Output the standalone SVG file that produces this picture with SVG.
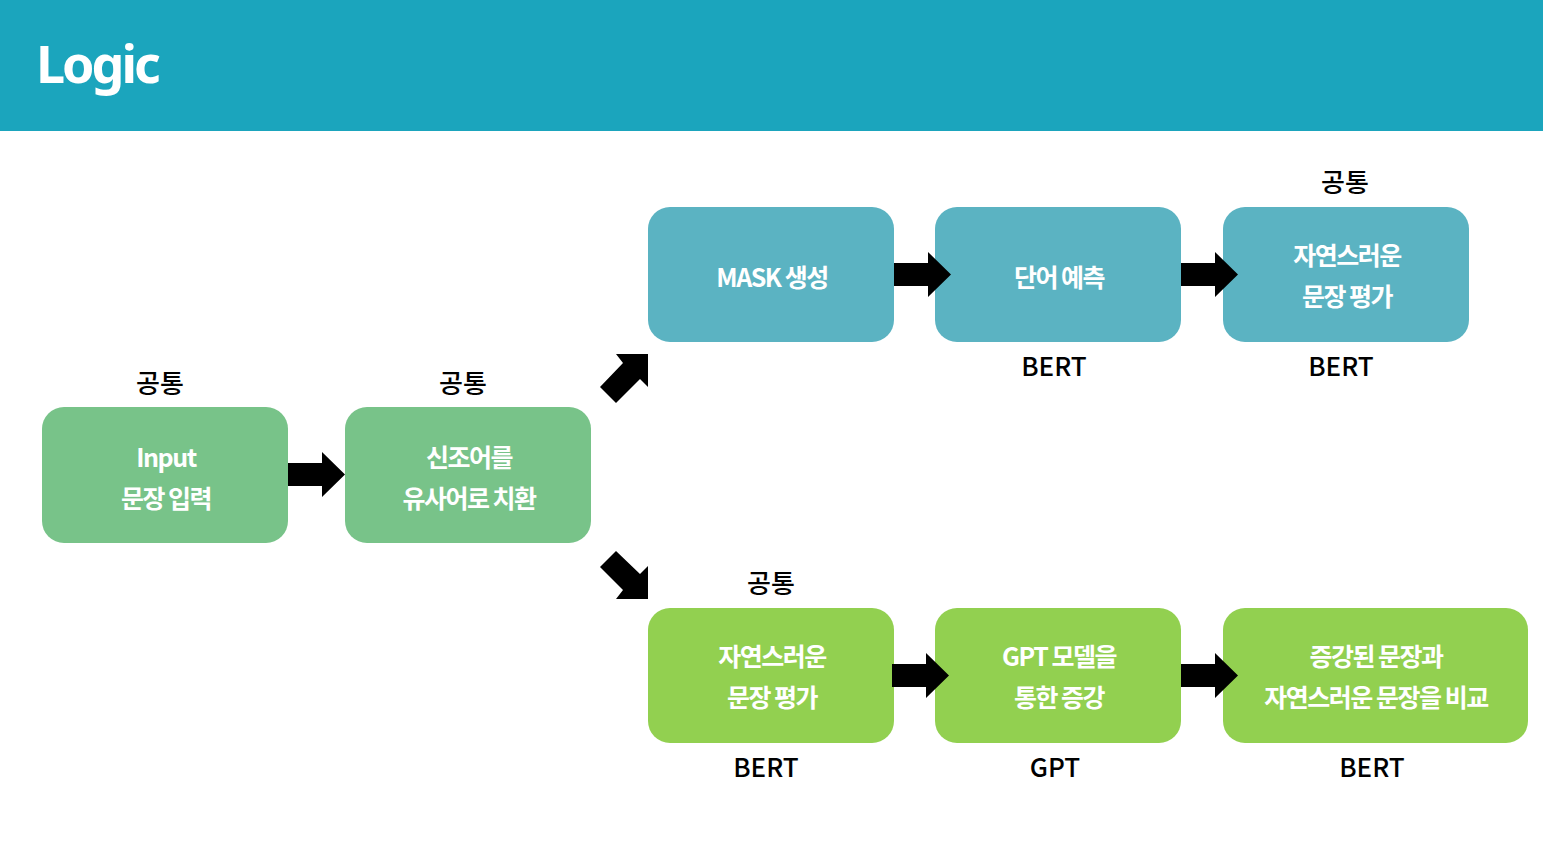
<svg xmlns="http://www.w3.org/2000/svg" width="1543" height="854" viewBox="0 0 1543 854">
<style>
.t{font-family:"Noto Sans CJK KR","Noto Sans",sans-serif;fill:#fff;font-size:25px;font-weight:bold;text-anchor:middle;letter-spacing:-1.5px}
.l{font-family:"Noto Sans CJK KR","Noto Sans",sans-serif;fill:#000;font-size:26px;font-weight:500;text-anchor:middle}
.g1{fill:#78c389}.b{fill:#5bb3c2}.g2{fill:#92d050}
.h{font-family:"Noto Sans","Liberation Sans",sans-serif;font-size:52px;font-weight:bold;fill:#fff;letter-spacing:-3px}
</style>
<rect width="1543" height="854" fill="#fff"/>
<rect width="1543" height="131" fill="#1ba5bd"/>
<text class="h" x="36" y="83">Logic</text>
<g id="n1"><rect class="g1" x="42" y="407" width="246" height="136" rx="22"/><text class="t" x="166" y="467">Input</text><text class="t" x="166" y="508">문장 입력</text><text class="l" x="160" y="393">공통</text></g>
<g id="n2"><rect class="g1" x="345" y="407" width="246" height="136" rx="22"/><text class="t" x="469" y="467">신조어를</text><text class="t" x="469" y="508">유사어로 치환</text><text class="l" x="463" y="393">공통</text></g>
<g id="n3"><rect class="b" x="648" y="207" width="246" height="135" rx="22"/><text class="t" x="772" y="287">MASK 생성</text></g>
<g id="n4"><rect class="b" x="935" y="207" width="246" height="135" rx="22"/><text class="t" x="1059" y="287">단어 예측</text><text class="l" x="1054" y="376">BERT</text></g>
<g id="n5"><rect class="b" x="1223" y="207" width="246" height="135" rx="22"/><text class="t" x="1347" y="265">자연스러운</text><text class="t" x="1347" y="306">문장 평가</text><text class="l" x="1345" y="192">공통</text><text class="l" x="1341" y="376">BERT</text></g>
<g id="n6"><rect class="g2" x="648" y="608" width="246" height="135" rx="22"/><text class="t" x="772" y="666">자연스러운</text><text class="t" x="772" y="707">문장 평가</text><text class="l" x="771" y="593">공통</text><text class="l" x="766" y="777">BERT</text></g>
<g id="n7"><rect class="g2" x="935" y="608" width="246" height="135" rx="22"/><text class="t" x="1059" y="666">GPT 모델을</text><text class="t" x="1059" y="707">통한 증강</text><text class="l" x="1055" y="777">GPT</text></g>
<g id="n8"><rect class="g2" x="1223" y="608" width="305" height="135" rx="22"/><text class="t" x="1376" y="666">증강된 문장과</text><text class="t" x="1376" y="707">자연스러운 문장을 비교</text><text class="l" x="1372" y="777">BERT</text></g>
<g id="connectors" fill="#000">
<polygon points="288,463 322,463 322,452 345,474.5 322,497 322,486 288,486"/>
<polygon points="894,263 928,263 928,252 951,274.5 928,297 928,286 894,286"/>
<polygon points="1181,263 1215,263 1215,252 1238,274.5 1215,297 1215,286 1181,286"/>
<polygon points="892,664 926,664 926,653 949,675.5 926,698 926,687 892,687"/>
<polygon points="1181,664 1215,664 1215,653 1238,675.5 1215,698 1215,687 1181,687"/>
<polygon points="616,354 648,354 648,387 640,379 616,403 600,387 623,363"/>
<polygon points="616,599 648,599 648,566 640,574 616,551 600,567 623,590"/>
</g>
</svg>
